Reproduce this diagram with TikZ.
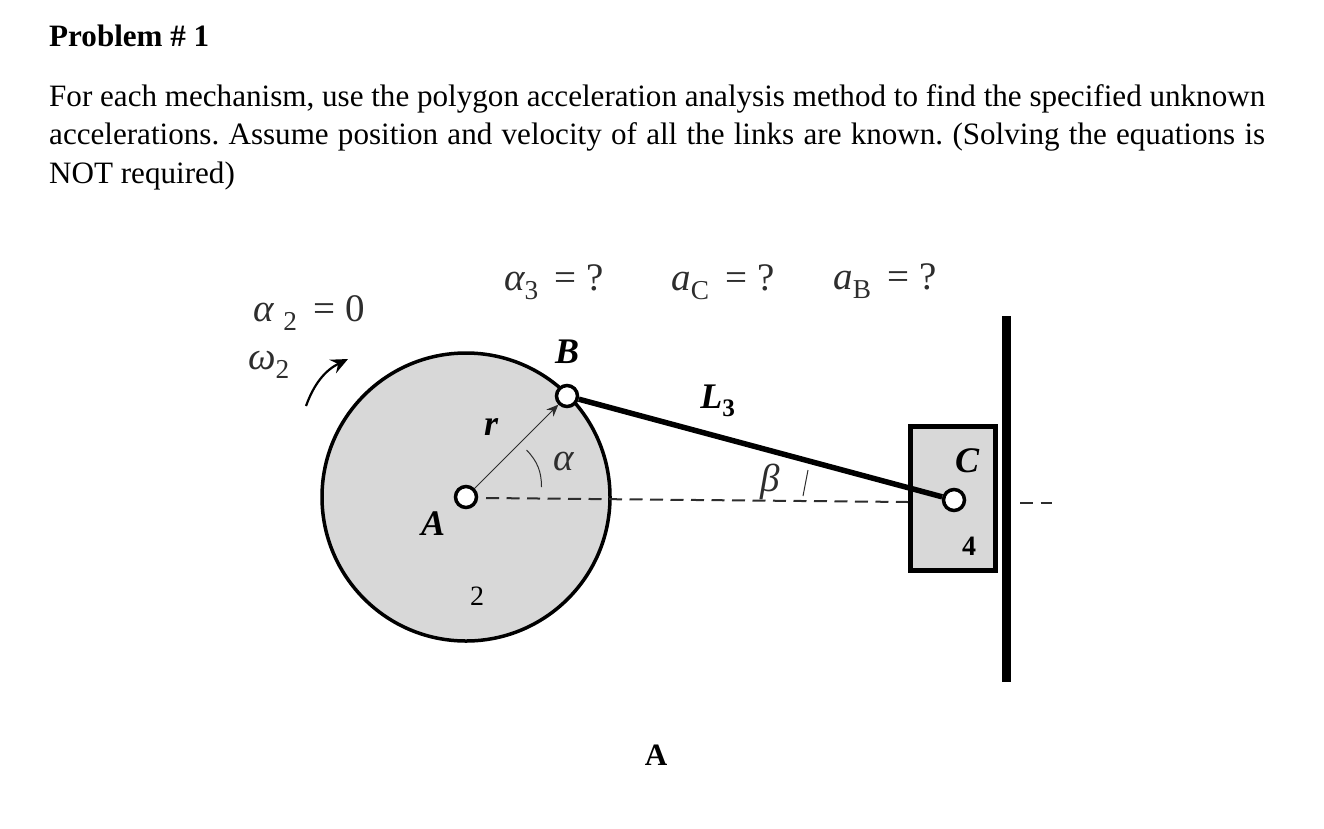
\documentclass[tikz,border=0pt]{standalone}
\usepackage{xcolor}
\usepackage{fontspec}
\setmainfont{Liberation Serif}
\usetikzlibrary{arrows,positioning}
\usetikzlibrary{arrows.meta}
\definecolor{partgray}{RGB}{216,216,216}
\definecolor{inkgray}{RGB}{45,45,45}

\begin{document}
\frenchspacing
\begin{tikzpicture}[x=1pt,y=-1pt,>=Stealth,every node/.append style={align=center,inner sep=0pt,text=black},
  bodytext/.style={font=\fontsize{31.1}{38.5}\selectfont},
  mathlabel/.style={font=\fontsize{39}{44}\selectfont\itshape,text=inkgray},
  namelabel/.style={font=\fontsize{36}{40}\selectfont\bfseries\itshape},
  numlabel/.style={font=\fontsize{28}{32}\selectfont},
  pin/.style={shape=circle, draw=black, fill=white, line width=3.5, minimum size=21pt},
  centerline/.style={dashed, dash pattern=on 13pt off 7.5pt, line width=2, draw=inkgray}]
    \useasboundingbox (0,0) rectangle (1324,828);
    % text above the mechanism
    \node [anchor=west, bodytext] (title) at (49,36) {\textbf{Problem \# 1}};
    \node [anchor=north west, align=justify, text width=1216pt, bodytext] (task) at (49,84) {For each mechanism, use the polygon acceleration analysis method to find the specified unknown accelerations. Assume position and velocity of all the links are known. (Solving the equations is NOT required)};
    \node [bodytext] (part) at (656,755) {\textbf{A}};
    % disc, slider and wall
    \node [shape=circle, draw=black, fill=partgray, line width=3.5, minimum size=288pt] (disc) at (466,497) {};
    \node [rectangle, draw=black, fill=partgray, line width=5, minimum width=85pt, minimum height=144pt] (slider) at (953,498.5) {};
    \coordinate (walltop) at (1006,316);
    \coordinate (wallbottom) at (1006,682);
    \draw [line width=9] (walltop) -- (wallbottom);
    % pins
    \coordinate (Bpos) at (567,396);
    \node [pin] (A) at (466,497) {};
    \node [pin] (C) at (954,500) {};
    \coordinate (dashstart) at (486,498);
    \coordinate (dashend) at (908,502);
    \coordinate (dashout) at (1020,503);
    \coordinate (dashfar) at (1052,503);
    \draw [centerline] (dashstart) -- (dashend);
    \draw [centerline] (dashout) -- (dashfar);
    % crank radius and coupler
    \node [pin] (B) at (Bpos) {};
    \draw [line width=5.5] (B) -- (C);
    \draw [-{Stealth[length=12pt,width=10pt]}, line width=1, draw=inkgray] (A) -- (B);
    % angle marks
    \coordinate (alphastart) at (526.5,450);
    \coordinate (alphaend) at (541.5,487);
    \draw [line width=1, draw=inkgray] (alphastart) to[bend left=22] (alphaend);
    \coordinate (betatop) at (808,470);
    \coordinate (betabottom) at (803,496);
    \draw [line width=1, draw=inkgray] (betatop) -- (betabottom);
    % rotation sense
    \coordinate (omegastart) at (306,406);
    \coordinate (omegaend) at (348,359);
    \draw [-{Stealth[length=17pt,width=15pt,inset=6pt]}, line width=2.2] (omegastart) to[bend left=22] (omegaend);
    % labels
    \node [mathlabel] (alphatwo) at (309,313) {α \textsubscript{\upshape 2}\, {\upshape = 0}};
    \node [mathlabel] (omegatwo) at (269,365) {ω\textsubscript{\upshape 2}};
    \node [mathlabel] (alphathree) at (554,282) {α\textsubscript{\upshape 3}\, {\upshape = ?}};
    \node [mathlabel] (accC) at (723,282) {a\textsubscript{\upshape C}\, {\upshape = ?}};
    \node [mathlabel] (accB) at (885,281) {a\textsubscript{\upshape B}\, {\upshape = ?}};
    \node [namelabel] (labelA) at (433,524) {A};
    \node [namelabel] (labelB) at (567,352) {B};
    \node [namelabel] (labelC) at (967,461) {C};
    \node [namelabel] (labelL) at (718,401) {L\textsubscript{\upshape 3}};
    \node [namelabel] (labelr) at (491,427) {r};
    \node [mathlabel] (labelalpha) at (564,461) {α};
    \node [mathlabel] (labelbeta) at (770,482) {β};
    \node [numlabel] (numtwo) at (477,596) {2};
    \node [numlabel] (numfour) at (969,546) {\textbf{4}};
\end{tikzpicture}
\end{document}
